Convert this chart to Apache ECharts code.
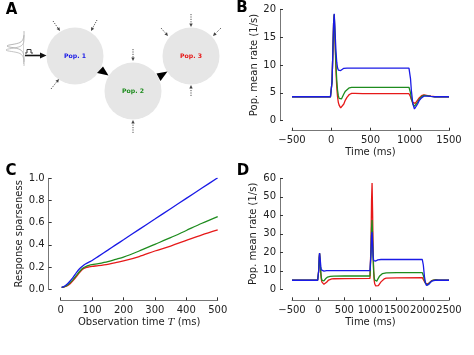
<!DOCTYPE html>
<html><head><meta charset="utf-8">
<script src="https://cdn.jsdelivr.net/npm/echarts@6/dist/echarts.min.js"></script>
<style>html,body{margin:0;padding:0;background:#fff}#c{width:474px;height:355px}</style>
</head><body><div id="c"></div>
<script>
// ---------- Panel B data ----------
const tB = [-500,-10,0,10,20,30,38,50,60,70,80,90,100,110,120,130,140,160,180,200,230,260,300,400,990,1000,1010,1020,1040,1060,1070,1080,1100,1120,1150,1180,1200,1230,1270,1320,1500];
const blueB = [4.3,4.3,4.3,7,12,17.5,19.2,15.5,12.5,10.5,9.5,9.1,9.0,8.95,9.0,9.15,9.3,9.4,9.45,9.45,9.45,9.45,9.45,9.45,9.45,9.45,7.5,5.5,3.0,2.1,2.1,2.4,3.0,3.6,4.1,4.4,4.45,4.4,4.35,4.3,4.3];
const greenB = [4.3,4.3,4.3,7,12,17.5,19.1,14,10,7.3,5.5,4.5,4.0,3.8,3.75,3.9,4.2,4.8,5.3,5.65,5.9,6.0,6.0,6.0,6.0,6.0,5.0,4.0,3.0,2.6,2.6,2.8,3.3,3.8,4.3,4.55,4.55,4.45,4.35,4.3,4.3];
const redB = [4.3,4.3,4.3,7,12,17.5,19.0,13.5,9,6,4.3,3.3,2.8,2.45,2.3,2.25,2.4,3.0,3.7,4.2,4.7,4.9,4.9,4.85,4.85,4.85,4.3,3.8,3.3,3.1,3.1,3.3,3.7,4.1,4.5,4.65,4.6,4.5,4.4,4.3,4.3];

// ---------- Panel C data ----------
const tC = [3,10,20,30,40,50,60,70,80,90,100,120,150,175,200,250,300,350,400,450,500];
const blueC = [0.018,0.025,0.045,0.075,0.11,0.15,0.185,0.21,0.23,0.245,0.26,0.297,0.353,0.4,0.446,0.54,0.633,0.726,0.819,0.912,1.005];
const greenC = [0.018,0.022,0.035,0.06,0.09,0.125,0.16,0.19,0.205,0.215,0.222,0.232,0.25,0.27,0.29,0.345,0.405,0.465,0.53,0.595,0.655];
const redC = [0.018,0.02,0.03,0.05,0.08,0.115,0.15,0.18,0.195,0.202,0.207,0.213,0.225,0.24,0.255,0.295,0.345,0.39,0.44,0.49,0.535];

// ---------- Panel D data ----------
const tD = [-500,-10,0,10,20,27,40,50,60,70,80,90,100,110,120,130,140,160,180,200,230,260,300,500,990,1000,1010,1020,1030,1040,1050,1060,1070,1080,1090,1100,1110,1120,1130,1140,1150,1170,1200,1230,1260,1300,1500,1990,2000,2010,2030,2050,2070,2090,2110,2140,2170,2200,2250,2300,2500];
const blueD = [4.9,4.9,4.9,10,17,19.6,16,12.5,10.5,9.8,9.6,9.6,9.7,9.8,9.9,10.0,10.0,10.1,10.1,10.1,10.1,10.1,10.1,10.1,10.1,10.2,20,29,31,24,18,15.5,14.8,14.8,15.0,15.3,15.5,15.7,15.8,15.9,16.0,16.1,16.1,16.1,16.1,16.1,16.1,16.1,16.0,13,7,3.5,2.1,2.0,2.6,3.6,4.4,4.8,5.0,4.9,4.9];
const greenD = [4.9,4.9,4.9,10,17,19.5,14,9.5,6.5,5,4.3,4.1,4.2,4.5,4.9,5.3,5.7,6.2,6.6,6.8,7.0,7.1,7.1,7.2,7.2,7.3,20,33,37.5,28,17,10,6.5,5,4.3,4.1,4.1,4.4,4.9,5.5,6.1,7.0,7.9,8.5,8.8,8.9,9.0,9.0,8.9,7.5,5,3.3,2.4,2.3,2.8,3.8,4.6,5.0,5.1,4.95,4.9];
const redD = [4.9,4.9,4.9,10,17,19.3,13,8.5,5.5,4.0,3.3,3.0,2.8,2.7,2.7,2.8,3.1,3.8,4.5,5.0,5.4,5.6,5.7,5.8,5.9,6.0,25,48,57.5,42,22,10,5,3,2.2,1.8,1.5,1.4,1.4,1.6,2.0,2.9,4.0,5.0,5.6,6.0,6.2,6.3,6.2,5.5,4.2,3.2,2.8,2.8,3.2,4.0,4.7,5.1,5.2,5.0,4.9];

const popNames = ['Pop. 1','Pop. 2','Pop. 3'];
const COLORS = {blue:'#1a1ae6', green:'#1e8c1e', red:'#e61919'};

const FONT = 'DejaVu Sans';
function pair(t, v){ return t.map((x,i)=>[x, v[i]]); }
function fmtMinus(v){ return String(v).replace('-', '\u2212'); }

function xAx(gi, min, max, interval, name, offset, rich){
  return {type:'value', gridIndex:gi, min, max, interval, offset,
    name, nameLocation:'middle', nameGap:17,
    nameTextStyle:{fontSize:10, fontFamily:FONT, color:'#222', rich: rich||{}},
    axisLine:{show:true, onZero:false, lineStyle:{color:'#777', width:1}},
    axisTick:{show:true, inside:true, length:3, lineStyle:{color:'#333'}},
    axisLabel:{fontSize:10, fontFamily:FONT, color:'#222', margin:5, formatter: fmtMinus},
    splitLine:{show:false}};
}
function yAx(gi, min, max, interval, name, offset, gap, fmt){
  return {type:'value', gridIndex:gi, min, max, interval, offset,
    name, nameLocation:'middle', nameGap:gap,
    nameTextStyle:{fontSize:10, fontFamily:FONT, color:'#222'},
    axisLine:{show:true, onZero:false, lineStyle:{color:'#777', width:1}},
    axisTick:{show:true, inside:true, length:3, lineStyle:{color:'#333'}},
    axisLabel:{fontSize:10, fontFamily:FONT, color:'#222', margin:4, formatter: fmt||fmtMinus},
    splitLine:{show:false}};
}
function line(xi, data, color){
  return {type:'line', xAxisIndex:xi, yAxisIndex:xi, data, showSymbol:false, symbol:'none',
    lineStyle:{color, width:1.3}, itemStyle:{color}, animation:false, silent:true};
}

// ---- Panel A diagram helpers ----
function darrow(x1,y1,x2,y2){
  const dx=x2-x1, dy=y2-y1, L=Math.hypot(dx,dy), ux=dx/L, uy=dy/L;
  const hl=3.5, hw=1.7;
  const bx=x2-ux*hl, by=y2-uy*hl;
  return [
    {type:'line', shape:{x1,y1,x2:bx,y2:by}, style:{stroke:'#555', lineWidth:1, lineDash:[1.2,1.2]}},
    {type:'polygon', shape:{points:[[x2,y2],[bx-uy*hw,by+ux*hw],[bx+uy*hw,by-ux*hw]]}, style:{fill:'#444'}}
  ];
}
const circles = [[75,56],[133,91],[191,56]];
const popColors = [COLORS.blue, COLORS.green, COLORS.red];
let g = [];
circles.forEach((c,i)=>{
  g.push({type:'circle', shape:{cx:c[0], cy:c[1], r:28.5}, style:{fill:'#e6e6e6'}});
  g.push({type:'text', style:{text:popNames[i], x:c[0], y:c[1], fill:popColors[i], font:'bold 6.2px DejaVu Sans', align:'center', verticalAlign:'middle', textAlign:'center', textVerticalAlign:'middle'}});
});
[[53,21,60,31],[97,20,91,31],[51,89,59,79],[133,49,133,61],[133,133,133,120],[191,14,191,27],[161,28,168,36],[221,28,213,36],[191,96,191,85]]
  .forEach(a=>{ g = g.concat(darrow(a[0],a[1],a[2],a[3])); });
// connection arrowheads
g.push({type:'polygon', shape:{points:[[97,73],[103,66.5],[108.5,75.5]]}, style:{fill:'#000'}});
g.push({type:'polygon', shape:{points:[[156.5,73.5],[167.5,71.5],[160.5,81]]}, style:{fill:'#000'}});
// input gaussians
g.push({type:'polyline', shape:{smooth:0.35, points:[[24,31],[23.5,38],[20,42.5],[7,46],[20,49.5],[23.5,54],[24,62]]}, style:{stroke:'#999', lineWidth:0.7, fill:null}});
g.push({type:'polyline', shape:{smooth:0.35, points:[[24,35],[23.5,43],[20,46.5],[6,50],[20,53.5],[23.5,58],[24,66]]}, style:{stroke:'#aaa', lineWidth:0.7, fill:null}});
g.push({type:'line', shape:{x1:23.5,y1:36,x2:23.5,y2:64}, style:{stroke:'#bbb', lineWidth:0.6}});
// pulse symbol
g.push({type:'polyline', shape:{points:[[25,53],[27,53],[27,49.5],[31,49.5],[31,53],[33,53]]}, style:{stroke:'#222', lineWidth:0.9, fill:null}});
// input arrow
g.push({type:'line', shape:{x1:25,y1:55.5,x2:41,y2:55.5}, style:{stroke:'#111', lineWidth:1.6}});
g.push({type:'polygon', shape:{points:[[46.5,55.5],[40,52.5],[40,58.5]]}, style:{fill:'#111'}});
// panel letters
[['A',11.5,10.5],['B',242,8.5],['C',11,171.5],['D',243,171]].forEach(l=>{
  g.push({type:'text', style:{text:l[0], x:l[1], y:l[2], fill:'#000', font:'bold 15px DejaVu Sans', align:'center', verticalAlign:'middle', textAlign:'center', textVerticalAlign:'middle'}});
});

const chart = echarts.init(document.getElementById('c'), null, {renderer:'canvas'});
chart.setOption({
  animation:false,
  backgroundColor:'#fff',
  grid:[
    {left:292, top:9.3, width:157, height:111.4},
    {left:60.7, top:178.3, width:157, height:111},
    {left:292, top:178.3, width:157, height:111}
  ],
  xAxis:[
    xAx(0,-500,1500,500,'Time (ms)',10),
    xAx(1,0,500,100,'Observation time {i|T} (ms)',11,{i:{fontStyle:'italic', fontFamily:'DejaVu Serif', fontSize:10}}),
    xAx(2,-500,2500,500,'Time (ms)',11)
  ],
  yAxis:[
    yAx(0,0,20,5,'Pop. mean rate (1/s)',12,20),
    yAx(1,0,1,0.2,'Response sparseness',12,22,v=>v.toFixed(1)),
    yAx(2,0,60,10,'Pop. mean rate (1/s)',12,22)
  ],
  series:[
    line(0,pair(tB,redB),COLORS.red), line(0,pair(tB,greenB),COLORS.green), line(0,pair(tB,blueB),COLORS.blue),
    {...line(1,pair(tC,redC),COLORS.red), smooth:0.3}, {...line(1,pair(tC,greenC),COLORS.green), smooth:0.3}, {...line(1,pair(tC,blueC),COLORS.blue), smooth:0.3},
    line(2,pair(tD,redD),COLORS.red), line(2,pair(tD,greenD),COLORS.green), line(2,pair(tD,blueD),COLORS.blue)
  ],
  graphic: g
});
</script></body></html>
